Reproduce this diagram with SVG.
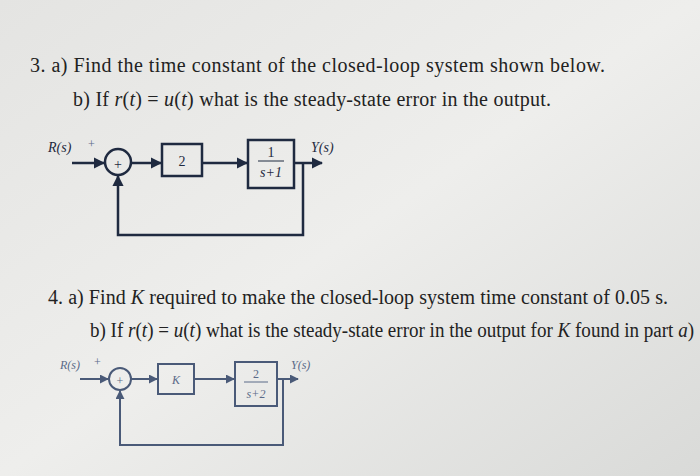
<svg xmlns="http://www.w3.org/2000/svg" width="700" height="476" viewBox="0 0 700 476">
<defs>
<linearGradient id="bg" x1="0" y1="0" x2="1" y2="1"><stop offset="0" stop-color="#e4e4e2"/><stop offset="0.5" stop-color="#eeeeec"/><stop offset="1" stop-color="#d9dad8"/></linearGradient>
<marker id="a" viewBox="0 0 10 10" refX="9" refY="5" markerWidth="4.5" markerHeight="4.5" orient="auto"><path d="M0,0L10,5L0,10z" fill="#1f2a40"/></marker>
<marker id="b" viewBox="0 0 10 10" refX="9" refY="5" markerWidth="4.5" markerHeight="4.5" orient="auto"><path d="M0,0L10,5L0,10z" fill="#4a5a78"/></marker>
</defs>
<style>
.t{font-family:"Liberation Serif",serif;font-size:20px;fill:#222}
.l1{fill:none;stroke:#1f2a40;stroke-width:2.5}
.l2{fill:none;stroke:#4a5a78;stroke-width:2}
.s1{font-family:"Liberation Serif",serif;font-size:14px;fill:#1f2a40}
.s2{font-family:"Liberation Serif",serif;font-size:12px;fill:#5a6a88}
</style>
<rect width="700" height="476" fill="url(#bg)"/>
<text class="t" x="30" y="72" textLength="575">3. a) Find the time constant of the closed-loop system shown below.</text>
<text class="t" x="73" y="106" textLength="478">b) If <tspan font-style="italic">r</tspan>(<tspan font-style="italic">t</tspan>) = <tspan font-style="italic">u</tspan>(<tspan font-style="italic">t</tspan>) what is the steady-state error in the output.</text>
<text class="t" x="48" y="304" textLength="620">4. a) Find <tspan font-style="italic">K</tspan> required to make the closed-loop system time constant of 0.05 s.</text>
<text class="t" x="90" y="337" textLength="604" lengthAdjust="spacingAndGlyphs">b) If <tspan font-style="italic">r</tspan>(<tspan font-style="italic">t</tspan>) = <tspan font-style="italic">u</tspan>(<tspan font-style="italic">t</tspan>) what is the steady-state error in the output for <tspan font-style="italic">K</tspan> found in part <tspan font-style="italic">a</tspan>)</text>
<g id="connectors1">
<path class="l1" d="M72,163H104" marker-end="url(#a)"/>
<path class="l1" d="M131,163H161" marker-end="url(#a)"/>
<path class="l1" d="M202,163H247" marker-end="url(#a)"/>
<path class="l1" d="M294,163H322" marker-end="url(#a)"/>
<path class="l1" d="M303,163V235H118V176" marker-end="url(#a)"/>
</g>
<g id="sum1"><circle class="l1" cx="118" cy="162" r="13"/><text class="s1" x="118" y="169" text-anchor="middle" font-size="20">+</text></g>
<g id="gain1"><rect class="l1" x="162" y="144" width="40" height="32"/><text class="s1" x="182" y="166" text-anchor="middle">2</text></g>
<g id="plant1"><rect class="l1" x="248" y="140" width="46" height="48"/><text class="s1" x="271" y="157" text-anchor="middle">1</text><path d="M258,161H284" stroke="#1f2a40" stroke-width="1"/><text class="s1" x="271" y="177" text-anchor="middle" font-style="italic" fill="#6a7a98">s+1</text></g>
<text class="s1" x="48" y="152" font-style="italic" font-size="15">R(s)</text><text class="s2" x="88" y="148">+</text>
<text class="s1" x="311" y="152" font-style="italic" font-size="15">Y(s)</text>
<g id="connectors2">
<path class="l2" d="M80,379H108" marker-end="url(#b)"/>
<path class="l2" d="M131,379H157" marker-end="url(#b)"/>
<path class="l2" d="M194,379H234" marker-end="url(#b)"/>
<path class="l2" d="M277,379H298" marker-end="url(#b)"/>
<path class="l2" d="M283,379V445H120V391" marker-end="url(#b)"/>
</g>
<g id="sum2"><circle class="l2" cx="120" cy="379" r="11"/><text class="s2" x="120" y="385" text-anchor="middle" font-size="17">+</text></g>
<g id="gain2"><rect class="l2" x="158" y="364" width="36" height="30"/><text class="s2" x="176" y="384" text-anchor="middle" font-style="italic">K</text></g>
<g id="plant2"><rect class="l2" x="235" y="362" width="42" height="44"/><text class="s2" x="256" y="378" text-anchor="middle">2</text><path d="M244,382H268" stroke="#5a6a88" stroke-width="1"/><text class="s2" x="256" y="398" text-anchor="middle" font-style="italic">s+2</text></g>
<text class="s2" x="60" y="369" font-style="italic">R(s)</text><text class="s2" x="94" y="366" font-size="9">+</text>
<text class="s2" x="291" y="369" font-style="italic">Y(s)</text>
</svg>
